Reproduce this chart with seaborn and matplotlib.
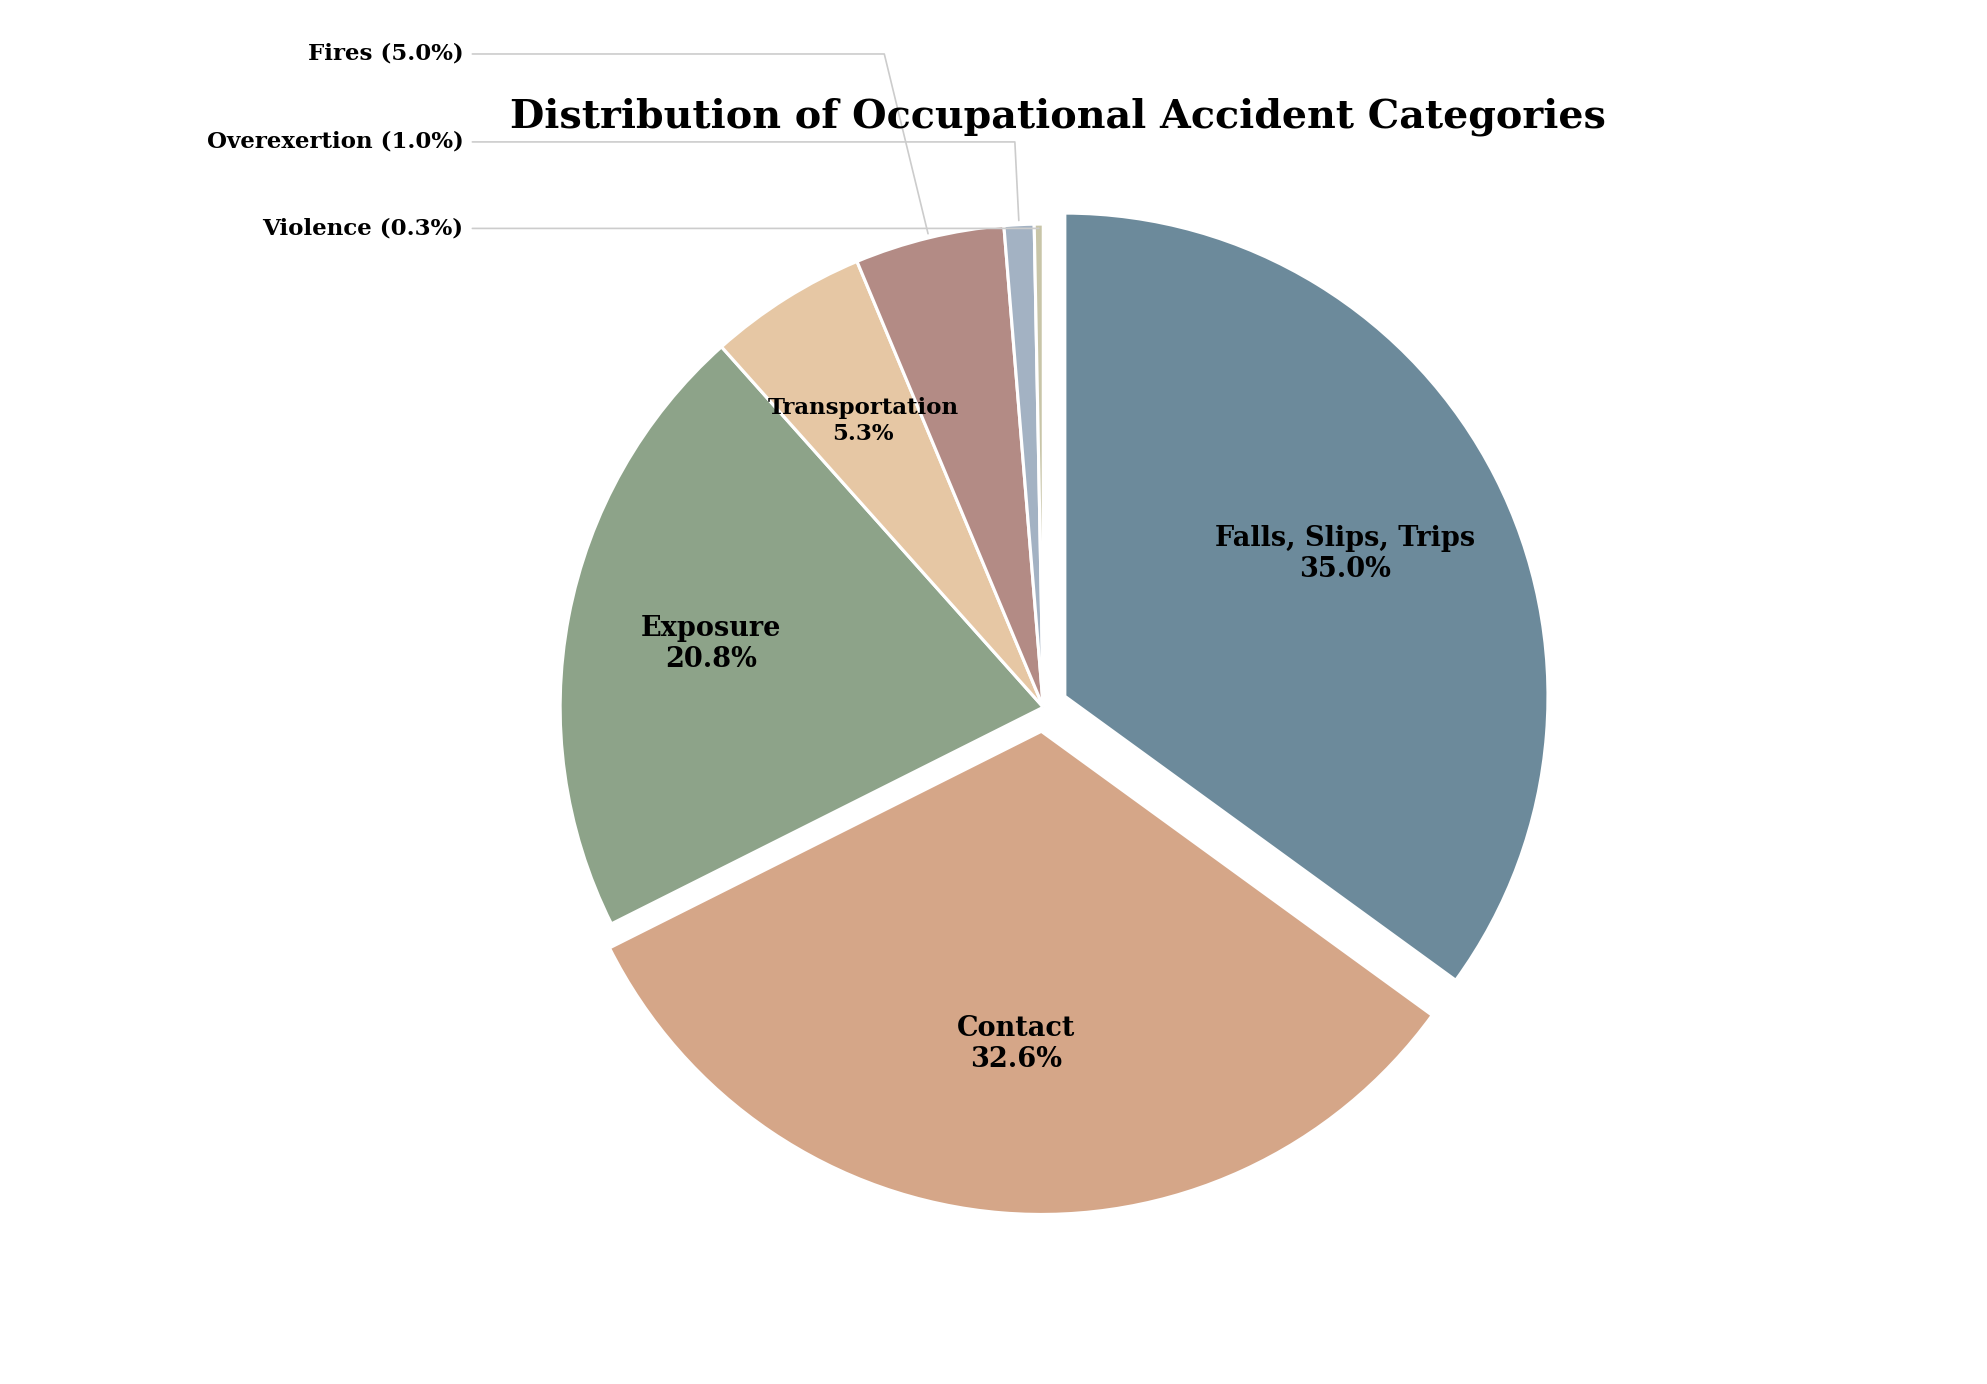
import numpy as np
import matplotlib
matplotlib.use("Agg")
import matplotlib.pyplot as plt
import seaborn as sns

categories = ["Falls, Slips, Trips", "Contact", "Exposure", "Transportation",
              "Fires", "Overexertion", "Violence"]
shares = [35.0, 32.6, 20.8, 5.3, 5.0, 1.0, 0.3]
colors = ["#6c8a9b", "#d5a688", "#8da389", "#e6c7a4", "#b38b85", "#a3b2c3", "#c8c5a8"]
explode = [0.05, 0.05, 0, 0, 0, 0, 0]
outside = ["Fires", "Overexertion", "Violence"]

sns.set_theme(style="white")
plt.rcParams['font.family'] = ['DejaVu Serif']
plt.rcParams['text.color'] = 'black'

fig = plt.figure(figsize=(13.2533, 9.2267), dpi=150)
ax = fig.add_axes([0.221, 0.0525, 0.6076, 0.873])

wedges, _ = ax.pie(
    shares, colors=colors, explode=explode, startangle=90, counterclock=False,
    wedgeprops=dict(edgecolor="white", linewidth=1.5))

# inner labels at 0.7 of the radius, measured from the pie centre
for w, name, val in zip(wedges, categories, shares):
    if name in outside:
        continue
    ang = np.deg2rad((w.theta1 + w.theta2) / 2)
    ax.text(0.7 * np.cos(ang), 0.7 * np.sin(ang), f"{name}\n{val:.1f}%",
            ha="center", va="center", fontweight="bold", color="black",
            fontsize=11 if name == "Transportation" else 13)

# small slices: labels on the left, joined by thin lines
label_y = {"Fires": 1.352, "Overexertion": 1.170, "Violence": 0.991}
for w, name, val in zip(wedges, categories, shares):
    if name not in outside:
        continue
    ang = (w.theta1 + w.theta2) / 2
    x, y = np.cos(np.deg2rad(ang)), np.sin(np.deg2rad(ang))
    ax.annotate(f"{name} ({val:.1f}%)", xy=(x, y), xytext=(-1.2, label_y[name]),
                ha="right", va="center", fontsize=11, fontweight="bold",
                color="black", annotation_clip=False,
                arrowprops=dict(arrowstyle="-", color="#cccccc", lw=0.8,
                                connectionstyle=f"angle,angleA=0,angleB={ang}"))

ax.set_xlim(-1.25, 1.25)
ax.set_ylim(-1.25, 1.25)
ax.set_aspect("equal")
fig.text(0.532, 0.916, "Distribution of Occupational Accident Categories",
         ha="center", va="center", fontsize=19, fontweight="bold", color="black")

fig.savefig("out.png", dpi=150)
